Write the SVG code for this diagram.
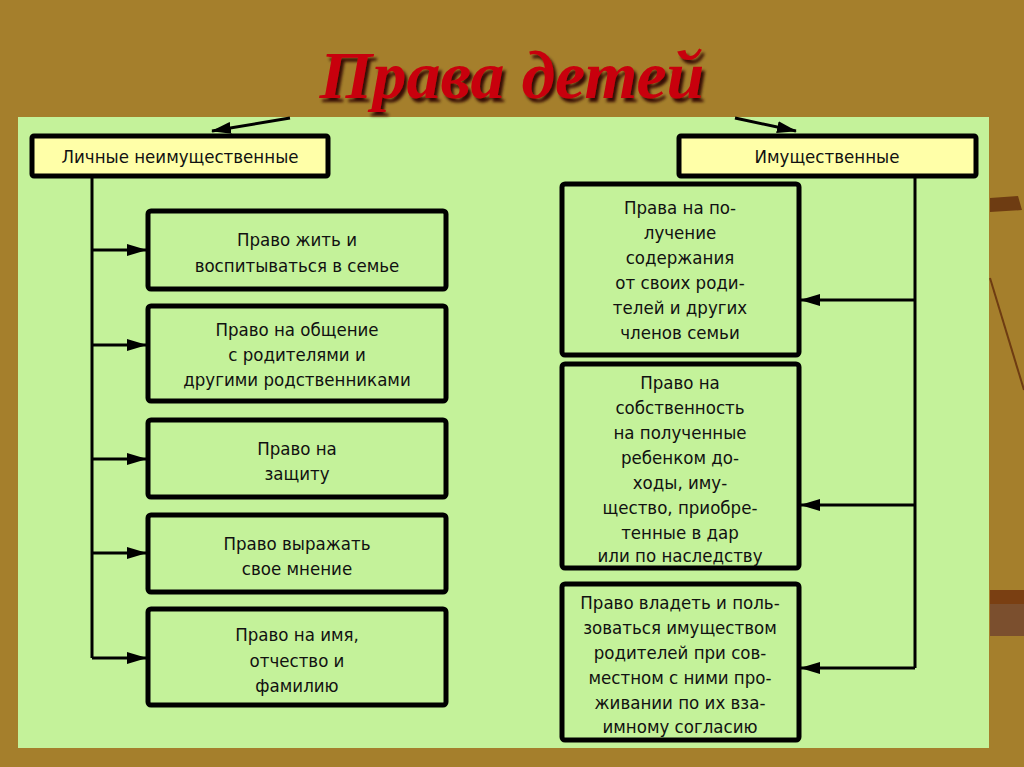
<svg xmlns="http://www.w3.org/2000/svg" width="1024" height="767" viewBox="0 0 1024 767">
<defs>
<style>
.b{fill:#c4f29a;stroke:#000;stroke-width:5}
.h{fill:#ffffa8;stroke:#000;stroke-width:5}
.t{font-family:"DejaVu Sans Condensed","DejaVu Sans",sans-serif;font-size:18.5px;fill:#111;text-anchor:middle}
.c{stroke:#000;stroke-width:3;fill:none}
</style>
<filter id="sh" x="-10%" y="-20%" width="120%" height="150%"><feDropShadow dx="3" dy="4" stdDeviation="1.5" flood-color="#2a0000" flood-opacity="0.9"/></filter>
<marker id="m" markerWidth="20" markerHeight="12" refX="19" refY="6" orient="auto" markerUnits="userSpaceOnUse" viewBox="0 0 20 12"><path d="M0,0L20,6L0,12z" fill="#000"/></marker>
</defs>
<rect width="1024" height="767" fill="#a57f2c"/>
<path d="M990,198L1018,196L1022,210L990,212z" fill="#6e3c12"/>
<path d="M990,278L1024,390" stroke="#6e3c12" stroke-width="2"/>
<rect x="990" y="590" width="34" height="14" fill="#7a3f12"/>
<rect x="990" y="604" width="34" height="32" fill="#7b4f2e"/>
<rect x="18" y="117" width="971" height="631" fill="#c4f29a"/>
<text x="512" y="98" font-family="Liberation Serif,serif" font-size="68" font-weight="bold" font-style="italic" fill="#c8000a" text-anchor="middle" filter="url(#sh)">Права детей</text>
<g id="connectors">
<path class="c" d="M290,118L212,131" marker-end="url(#m)"/>
<path class="c" d="M735,118L796,131" marker-end="url(#m)"/>
<path class="c" d="M92,176V658"/>
<path class="c" d="M92,250H146" marker-end="url(#m)"/>
<path class="c" d="M92,345H146" marker-end="url(#m)"/>
<path class="c" d="M92,459H146" marker-end="url(#m)"/>
<path class="c" d="M92,553H146" marker-end="url(#m)"/>
<path class="c" d="M92,658H146" marker-end="url(#m)"/>
<path class="c" d="M915,176V668"/>
<path class="c" d="M915,300H801" marker-end="url(#m)"/>
<path class="c" d="M915,505H801" marker-end="url(#m)"/>
<path class="c" d="M915,668H801" marker-end="url(#m)"/>
</g>
<g id="left-header"><rect class="h" x="32" y="136" width="296" height="40" rx="2"/><text class="t" x="180" y="163">Личные неимущественные</text></g>
<g id="right-header"><rect class="h" x="679" y="136" width="297" height="40" rx="2"/><text class="t" x="827" y="163">Имущественные</text></g>
<g id="l1"><rect class="b" x="148" y="211" width="298" height="78" rx="3"/><text class="t" x="297" y="246">Право жить и</text><text class="t" x="297" y="272">воспитываться в семье</text></g>
<g id="l2"><rect class="b" x="148" y="306" width="298" height="95" rx="3"/><text class="t" x="297" y="336">Право на общение</text><text class="t" x="297" y="361">с родителями и</text><text class="t" x="297" y="386">другими родственниками</text></g>
<g id="l3"><rect class="b" x="148" y="420" width="298" height="77" rx="3"/><text class="t" x="297" y="455">Право на</text><text class="t" x="297" y="480">защиту</text></g>
<g id="l4"><rect class="b" x="148" y="515" width="298" height="77" rx="3"/><text class="t" x="297" y="550">Право выражать</text><text class="t" x="297" y="575">свое мнение</text></g>
<g id="l5"><rect class="b" x="148" y="609" width="298" height="96" rx="3"/><text class="t" x="297" y="641">Право на имя,</text><text class="t" x="297" y="667">отчество и</text><text class="t" x="297" y="692">фамилию</text></g>
<g id="r1"><rect class="b" x="562" y="184" width="237" height="171" rx="3"/>
<text class="t" x="680" y="214">Права на по-</text><text class="t" x="680" y="239">лучение</text><text class="t" x="680" y="264">содержания</text><text class="t" x="680" y="289">от своих роди-</text><text class="t" x="680" y="314">телей и других</text><text class="t" x="680" y="339">членов семьи</text></g>
<g id="r2"><rect class="b" x="562" y="364" width="237" height="204" rx="3"/>
<text class="t" x="680" y="389">Право на</text><text class="t" x="680" y="414">собственность</text><text class="t" x="680" y="439">на полученные</text><text class="t" x="680" y="464">ребенком до-</text><text class="t" x="680" y="489">ходы, иму-</text><text class="t" x="680" y="514">щество, приобре-</text><text class="t" x="680" y="539">тенные в дар</text><text class="t" x="680" y="562">или по наследству</text></g>
<g id="r3"><rect class="b" x="562" y="584" width="237" height="156" rx="3"/>
<text class="t" x="680" y="609">Право владеть и поль-</text><text class="t" x="680" y="634">зоваться имуществом</text><text class="t" x="680" y="659">родителей при сов-</text><text class="t" x="680" y="684">местном с ними про-</text><text class="t" x="680" y="709">живании по их вза-</text><text class="t" x="680" y="733">имному согласию</text></g>
</svg>
